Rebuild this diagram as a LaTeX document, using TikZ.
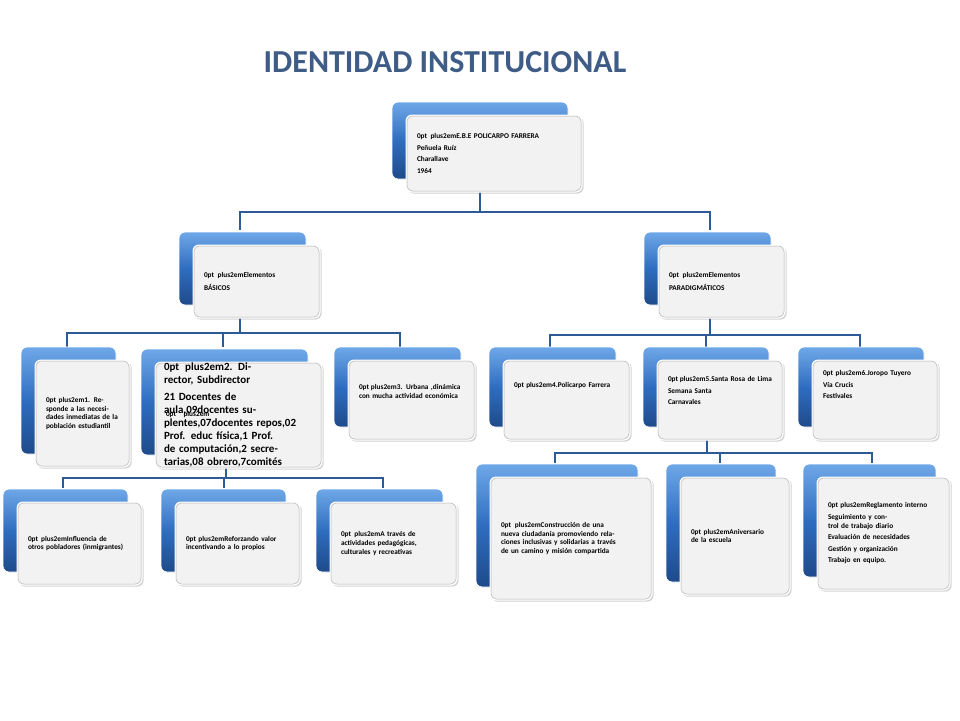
\documentclass[tikz,border=0pt]{standalone}
\usepackage{fontspec}
\setmainfont{Carlito}
\usetikzlibrary{shadows}
\definecolor{conn}{HTML}{2E5A97}
\definecolor{ttl}{HTML}{3E5C85}
\definecolor{bktop}{HTML}{6FA8E8}
\definecolor{bkmid}{HTML}{2F6DC0}
\definecolor{bkbot}{HTML}{1E4A8A}
\tikzset{
 backbox/.style={rounded corners=6pt, draw=white, line width=0.8pt, top color=bktop, bottom color=bkbot, middle color=bkmid},
 frontbox/.style={rounded corners=6pt, draw=white, line width=1pt, fill=gray!10, drop shadow={opacity=0.35, shadow xshift=1.5pt, shadow yshift=-1.5pt}},
 ring/.style={rounded corners=6pt, draw=gray!55, line width=0.5pt},
 lab/.style={align=center, font=\bfseries\fontsize{7.3}{8.6}\selectfont\hyphenpenalty=10000\exhyphenpenalty=10000, text=black},
 conn/.style={draw=conn, line width=2.2pt}
}
\newcommand{\mybox}[6]{%
 \path[backbox] (#2-14,-#3+13) rectangle (#4-14,-#5+13);
 \path[frontbox] (#2,-#3) rectangle (#4,-#5);
 \path[ring] (#2+1,-#3-1) rectangle (#4-1,-#5+1);
 \node[lab, text width={(#4-#2-22)*1pt}] (#1) at ({(#2+#4)/2},{-(#3+#5)/2}) {#6};}
\begin{document}
\begin{tikzpicture}[x=1pt,y=1pt]
\useasboundingbox[fill=white] (0,0) rectangle (960,-720);
\node[font=\bfseries\fontsize{32}{32}\selectfont, text=ttl] (title) at (445,-62) {IDENTIDAD INSTITUCIONAL};
% connectors
\coordinate (j0) at (480,-212);
\coordinate (j1) at (240,-333);
\coordinate (j2) at (710,-335);
\coordinate (j3) at (226,-478);
\coordinate (j4) at (707,-453);
\draw[conn] (480,-192) -- (j0);
\draw[conn] (240,-230) |- (j0) -| (710,-230);
\draw[conn] (240,-318) -- (j1);
\draw[conn] (67,-347) |- (j1) -| (400,-347);
\draw[conn] (223,-347) -- (223,-333);
\draw[conn] (710,-318) -- (j2);
\draw[conn] (550,-347) |- (j2) -| (860,-347);
\draw[conn] (706,-347) -- (706,-335);
\draw[conn] (226,-468) -- (j3);
\draw[conn] (63,-488) |- (j3) -| (383,-488);
\draw[conn] (224,-488) -- (224,-478);
\draw[conn] (707,-440) -- (j4);
\draw[conn] (555,-463) |- (j4) -| (872,-463);
\draw[conn] (720,-463) -- (720,-453);
% boxes
\mybox{top}{406}{115}{582}{192}{E.B.E POLICARPO FARRERA\\[3pt]Peñuela Ruíz\\[3pt]Charallave\\[3pt]1964}
\mybox{bas}{193}{245}{320}{318}{Elementos\\[4pt]BÁSICOS}
\mybox{par}{658}{245}{785}{318}{Elementos\\[4pt]PARADIGMÁTICOS}
\mybox{b1}{35}{360}{130}{467}{1. Responde a las necesidades inmediatas de la población estudiantil}
\mybox{b2box}{155}{362}{322}{468}{}
\node[align=center, font=\bfseries\fontsize{11}{13}\selectfont\hyphenpenalty=10000, text width=148pt] (b2) at (238,-415) {2. Director, Subdirector\\[4pt]21 Docentes de aula,09docentes suplentes,07docentes repos,02 Prof. educ física,1 Prof. de computación,2 secretarias,08 obrero,7comités};
\mybox{b3}{348}{360}{475}{440}{3. Urbana ,dinámica con mucha actividad económica\\[8pt]\mbox{}}
\mybox{b4}{503}{360}{630}{440}{4.Policarpo Farrera\\[22pt]\mbox{}}
\mybox{b5}{657}{360}{783}{440}{5.Santa Rosa de Lima\\[3pt]Semana Santa\\[3pt]Carnavales\\[10pt]\mbox{}}
\mybox{b6}{812}{360}{938}{440}{6.Joropo Tuyero\\[3pt]Vía Crucis\\[3pt]Festivales\\[22pt]\mbox{}}
\mybox{c1}{17}{502}{142}{585}{Influencia de otros pobladores (inmigrantes)}
\mybox{c2}{175}{502}{300}{585}{Reforzando valor incentivando a lo propios}
\mybox{c3}{330}{502}{457}{585}{A través de actividades pedagógicas, culturales y recreativas}
\mybox{c4}{490}{477}{652}{600}{Construcción de una nueva ciudadanía promoviendo relaciones inclusivas y solidarias a través de un camino y misión compartida}
\mybox{c5}{680}{477}{790}{595}{Aniversario de la escuela}
\mybox{c6}{817}{477}{950}{590}{Reglamento interno\\[3pt]Seguimiento y control de trabajo diario\\[3pt]Evaluación de necesidades\\[3pt]Gestión y organización\\[3pt]Trabajo en equipo.}
\end{tikzpicture}
\end{document}
